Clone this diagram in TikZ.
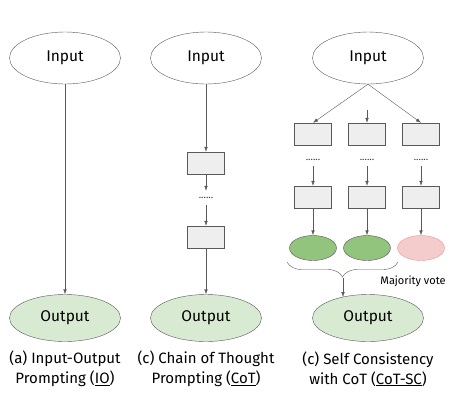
\documentclass[tikz,border=0pt]{standalone}
\usepackage{fontspec}
\setmainfont{Fira Sans}
\usepackage{tikz}
\usetikzlibrary{positioning,shapes.geometric,decorations.pathreplacing,arrows.meta}
\definecolor{edgegray}{HTML}{595959}
\definecolor{boxfill}{HTML}{EEEEEE}
\definecolor{outfill}{HTML}{D9EAD3}
\definecolor{votefill}{HTML}{93C47D}
\definecolor{badfill}{HTML}{F4CCCC}
\definecolor{badline}{HTML}{EA9999}
\definecolor{dotcol}{HTML}{1F3A5F}

\begin{document}
\begin{tikzpicture}[x=1pt,y=-1pt,
		inbox/.style={ellipse,draw=edgegray,fill=white,minimum width=111pt,minimum height=52pt,inner sep=0pt,font=\fontsize{15.5}{18}\selectfont},
		outbox/.style={inbox,fill=outfill,minimum height=47pt},
		thought/.style={rectangle,draw=edgegray,fill=boxfill,minimum width=37pt,minimum height=22pt,inner sep=0pt},
		vote/.style={ellipse,draw=edgegray,fill=votefill,minimum width=47pt,minimum height=25pt,inner sep=0pt},
		badvote/.style={vote,draw=badline,fill=badfill},
		dots/.style={inner sep=0pt,minimum height=14pt,text=dotcol,font=\fontsize{10}{10}\selectfont},
		caption/.style={align=center,font=\fontsize{15}{19.5}\selectfont},
		arr/.style={draw=edgegray,-{Latex[length=5pt,width=3.5pt]}}]
	\useasboundingbox (0,0) rectangle (460,402);
	% (a) input-output
	\node[inbox] (inA) at (65,58) {Input};
	\node[outbox] (outA) at (65,318) {Output};
	\draw[arr] (inA) -- (outA);
	\node[caption] (capA) at (65,369) {(a) Input-Output\\Prompting (\underline{IO})};
	% (b) chain of thought
	\node[inbox] (inB) at (206,58) {Input};
	\node[thought] (cotA) at (206,163) {};
	\node[dots] (cotDots) at (206,198) {......};
	\node[thought] (cotB) at (206,237) {};
	\node[outbox] (outB) at (206,318) {Output};
	\draw[arr] (inB) -- (cotA);
	\draw[arr] (cotA) -- (cotDots);
	\draw[arr] (cotDots) -- (cotB);
	\draw[arr] (cotB) -- (outB);
	\node[caption] (capB) at (206,369) {(c) Chain of Thought\\Prompting (\underline{CoT})};
	% (c) self consistency
	\node[inbox] (inC) at (368,58) {Input};
	\foreach \x/\n in {313/1,367/2,421/3} {
		\node[thought] (scA\n) at (\x,134) {};
		\node[dots,minimum height=12pt] (scDots\n) at (\x,160) {......};
		\node[thought] (scB\n) at (\x,197) {};
		\draw[arr] (scDots\n) -- (scB\n);
	}
	\node[vote] (vote1) at (313,248) {};
	\node[vote] (vote2) at (367,248) {};
	\node[badvote] (vote3) at (421,248) {};
	\foreach \n in {1,2,3}
		\draw[arr] (scB\n) -- (vote\n);
	\draw[arr] (inC.south) -- (scA1.north);
	\draw[arr] (inC.south) -- (scA3.north);
	\coordinate (midStart) at (367,110);
	\draw[arr] (midStart) -- (scA2);
	\draw[edgegray,decorate,decoration={brace,amplitude=15pt}] (398,262) -- (287,262);
	\coordinate (braceTip) at (343,278);
	\coordinate (outTop) at (343,297);
	\node[outbox] (outC) at (368,318) {Output};
	\draw[arr] (braceTip) -- (outTop);
	\node[font=\fontsize{11}{13}\selectfont] (major) at (413,281) {Majority vote};
	\node[caption] (capC) at (368,369) {(c) Self Consistency\\with CoT (\underline{CoT-SC})};
\end{tikzpicture}
\end{document}
